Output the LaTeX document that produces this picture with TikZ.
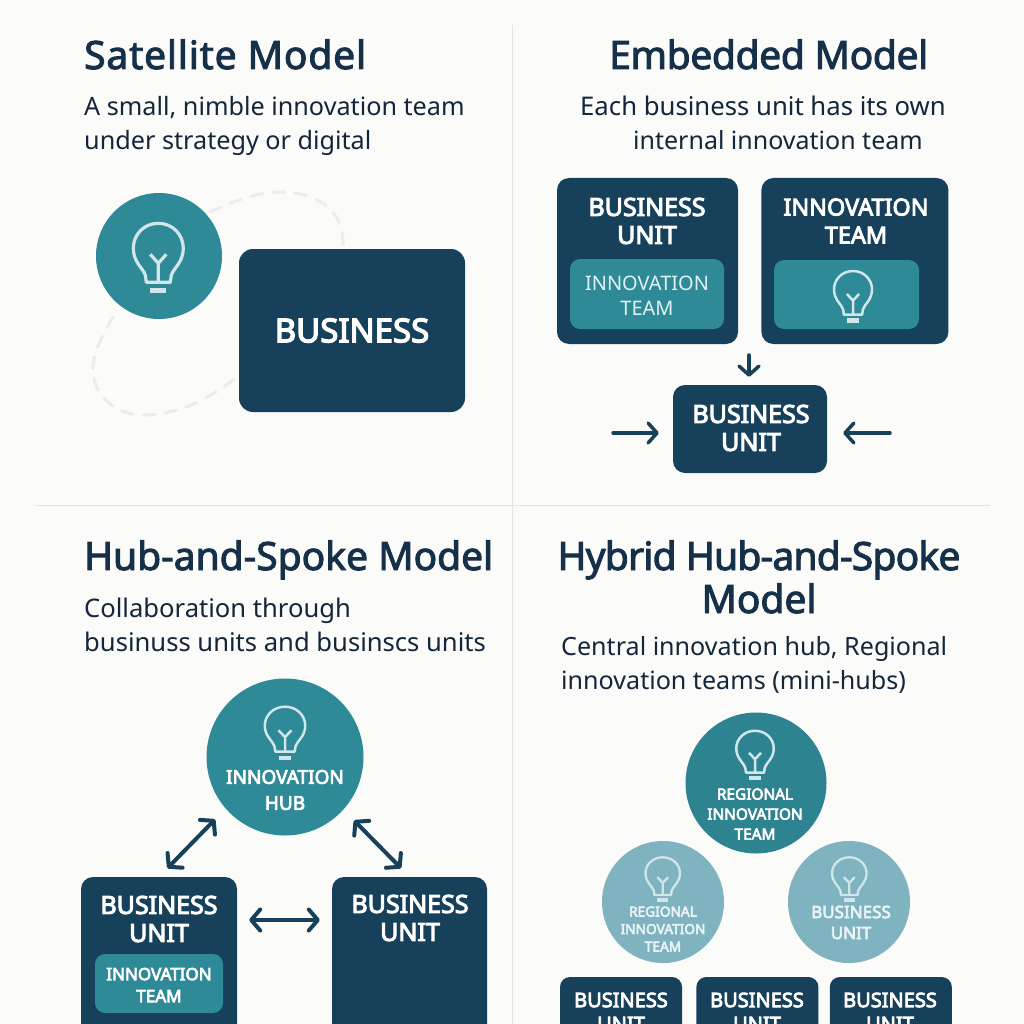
\documentclass[tikz,border=0pt]{standalone}
\usepackage{fontspec}
\setmainfont{Noto Sans}
\newfontfamily\titlefont[FakeBold=2.5]{Noto Sans}
\newfontfamily\medfont[FakeBold=4]{Noto Sans}
\usetikzlibrary{positioning,arrows.meta,calc}
\definecolor{paper}{HTML}{FBFBF9}
\definecolor{rule}{HTML}{E2E4E2}
\definecolor{orbitgrey}{HTML}{ECEDEB}
\definecolor{ink}{HTML}{16304A}
\definecolor{bodyink}{HTML}{13263B}
\definecolor{navy}{HTML}{17405A}
\definecolor{teal}{HTML}{2F8A97}
\definecolor{paleteal}{HTML}{7FB3C0}
\definecolor{glow}{HTML}{CFE7EA}
\tikzset{
  headline/.style={anchor=base west,align=left,inner sep=0pt,text=ink,font=\fontsize{39}{43}\selectfont\titlefont},
  blurb/.style={anchor=base west,align=left,inner sep=0pt,text=bodyink,font=\fontsize{#1}{34}\selectfont},
  navybox/.style={fill=navy,rounded corners=12pt,inner sep=0pt},
  tealbox/.style={fill=teal,rounded corners=10pt,inner sep=0pt},
  disc/.style={circle,fill=teal,inner sep=0pt},
  palecirc/.style={circle,fill=paleteal,inner sep=0pt,minimum size=122pt},
  boxtext/.style 2 args={align=center,text=white,inner sep=0pt,font=\fontsize{#1}{#2}\selectfont\medfont},
  oneway/.style={draw=navy,line width=3.5pt,line cap=round,-{Straight Barb[length=9pt,width=20pt,round]}},
  twoway/.style={draw=navy,line width=4pt,line cap=round,{Straight Barb[length=9pt,width=21pt,round]}-{Straight Barb[length=9pt,width=21pt,round]}},
  orbit/.style={draw=orbitgrey,line width=3pt,dash pattern=on 12pt off 10pt,line cap=round},
  bulb/.pic={
    \draw[glow,line join=round]
      (-25,0) .. controls (-25,-14) and (-14,-25) .. (0,-25)
      .. controls (14,-25) and (25,-14) .. (25,0)
      .. controls (25,14) and (15,20) .. (13,27) -- (12,34) -- (-12,34) -- (-13,27)
      .. controls (-15,20) and (-25,14) .. (-25,0) -- cycle;
    \draw[glow] (-8,6) -- (0,15) -- (8,6) (0,15) -- (0,34);
    \draw[glow,line width=1.3*\pgflinewidth] (-8,42) -- (8,42);
  }
}
\begin{document}
\begin{tikzpicture}[x=1pt,y=-1pt]
  \useasboundingbox (0,0) rectangle (1024,1024);
  \clip (0,0) rectangle (1024,1024);
  \fill[paper] (0,0) rectangle (1024,1024);
  \draw[rule,line width=1.5pt] (512.5,25) -- (512.5,1024) (35,505.5) -- (990,505.5);

  % satellite
  \node[headline] (sattitle) at (84,69) {\addfontfeature{LetterSpace=2.2}Satellite Model};
  \node[blurb=25.2] (satblurb) at (84,150) {A small, nimble innovation team\\under strategy or digital};
  \draw[orbit] (210,212) .. controls (240,198) and (262,192) .. (280,192) .. controls (310,192) and (345,205) .. (343,247);
  \draw[orbit] (113,317) .. controls (100,340) and (92,355) .. (93,372) .. controls (95,400) and (120,415) .. (143,415) .. controls (180,415) and (210,398) .. (237,377);
  \node[disc,minimum size=126pt] (sat) at (159,256) {};
  \pic[line width=3.2pt] (satbulb) at (158.3,248.3) {bulb};
  \node[navybox,rounded corners=14pt,minimum width=226pt,minimum height=163pt] (biz) at (352,330.5) {};
  \node[boxtext={33}{38}] (bizlab) at (biz) {BUSINESS};

  % embedded
  \node[headline] (embtitle) at (609,69) {\addfontfeature{LetterSpace=-0.9}Embedded Model};
  \node[blurb=25.7] (embblurb) at (580,116) {Each business unit has its own};
  \node[blurb=25] (embblurbb) at (633,150) {internal innovation team};
  \node[navybox,minimum width=181pt,minimum height=166pt] (bua) at (647.5,261) {};
  \node[navybox,right=23pt of bua,minimum width=187pt,minimum height=166pt] (itb) {};
  \node[tealbox,minimum width=154pt,minimum height=70pt] (ita) at (647,294) {};
  \node[tealbox,minimum width=145pt,minimum height=69pt] (bulbbox) at (846.5,294.5) {};
  \node[boxtext={25}{28}] (bualab) at (647,221) {BUSINESS\\UNIT};
  \node[boxtext={23.4}{28}] (itblab) at (856,221) {INNOVATION\\TEAM};
  \node[align=center,text=glow!60!white,inner sep=0pt,font=\fontsize{20}{25}\selectfont] (italab) at (647,295.5) {INNOVATION\\TEAM};
  \pic[xscale=.76,yscale=.74,line width=2.5pt] (embbulb) at (853,289.5) {bulb};
  \node[navybox,minimum width=154pt,minimum height=88pt] (bu) at (750,429) {};
  \node[boxtext={25}{28}] (bulab) at (751,428) {BUSINESS\\UNIT};
  \coordinate (d) at (749,355);
  \coordinate (e) at (613,433);
  \coordinate (f) at (890,433);
  \draw[oneway,shorten >=8pt] (d) -- (d |- bu.north);
  \draw[oneway,shorten >=14pt] (e) -- (bu.west |- e);
  \draw[oneway,shorten >=16pt] (f) -- (bu.east |- f);

  % hub and spoke
  \node[headline] (hubtitle) at (84,570) {Hub-and-Spoke Model};
  \node[blurb=25.6] (hubblurb) at (84,651) {Collaboration through\\businuss units and businscs units};
  \node[disc,minimum size=157pt] (hub) at (285,757) {};
  \pic[xscale=.81,yscale=.76,line width=2.5pt] (hubbulb) at (285,725.7) {bulb};
  \node[boxtext={19}{26}] (hublab) at (285,790) {INNOVATION\\HUB};
  \node[navybox,minimum width=156pt,minimum height=170pt] (bul) at (159,962) {};
  \node[navybox,minimum width=155pt,minimum height=170pt] (bur) at (409.5,962) {};
  \node[boxtext={25}{28}] (bullab) at (159,919) {BUSINESS\\UNIT};
  \node[boxtext={25}{28}] (burlab) at (410,918) {BUSINESS\\UNIT};
  \node[tealbox,minimum width=128pt,minimum height=59pt] (hubit) at (159,983.5) {};
  \node[boxtext={17}{22}] (hubitlab) at (159,985) {INNOVATION\\TEAM};
  \draw[twoway,shorten <=15pt,shorten >=12pt] (hub.221) -- (bul.north);
  \draw[twoway,shorten <=15pt,shorten >=12pt] (hub.-42) -- (bur.north);
  \draw[twoway,shorten <=12pt,shorten >=12pt] ([yshift=42pt]bul.east) -- ([yshift=42pt]bur.west);

  % hybrid
  \node[headline,anchor=base,align=center] (hybtitle) at (759,613) {\addfontfeature{LetterSpace=-2}Hybrid Hub-and-Spoke\\Model};
  \node[blurb=25.1] (hybblurb) at (561,689) {Central innovation hub, Regional\\innovation teams (mini-hubs)};
  \node[disc,fill=teal!95!black,minimum size=141pt] (top) at (756,783) {};
  \pic[xscale=.75,yscale=.71,line width=2.5pt] (topbulb) at (755,748.5) {bulb};
  \node[boxtext={15.4}{20}] (toplab) at (755,814) {REGIONAL\\INNOVATION\\TEAM};
  \node[palecirc] (regl) at (663,902) {};
  \node[palecirc] (regr) at (849,902) {};
  \pic[xscale=.69,yscale=.64,line width=2.3pt] (reglbulb) at (662.7,873.3) {bulb};
  \pic[xscale=.69,yscale=.64,line width=2.3pt] (regrbulb) at (849.3,873.3) {bulb};
  \node[boxtext={13.7}{17.5},text=glow!45!white] (regllab) at (663,929) {REGIONAL\\INNOVATION\\TEAM};
  \node[boxtext={17}{21},text=glow!45!white] (regrlab) at (851,922.5) {BUSINESS\\UNIT};
  \node[navybox,rounded corners=10pt,minimum width=122pt,minimum height=70pt] (bota) at (621,1012) {};
  \node[navybox,rounded corners=10pt,right=14pt of bota,minimum width=122pt,minimum height=70pt] (botb) {};
  \node[navybox,rounded corners=10pt,right=11pt of botb,minimum width=122pt,minimum height=70pt] (botc) {};
  \foreach \n/\lx in {a/621,b/757,c/890}
    \node[boxtext={20}{24}] (lab\n) at (\lx,1012) {BUSINESS\\UNIT};
\end{tikzpicture}
\end{document}
